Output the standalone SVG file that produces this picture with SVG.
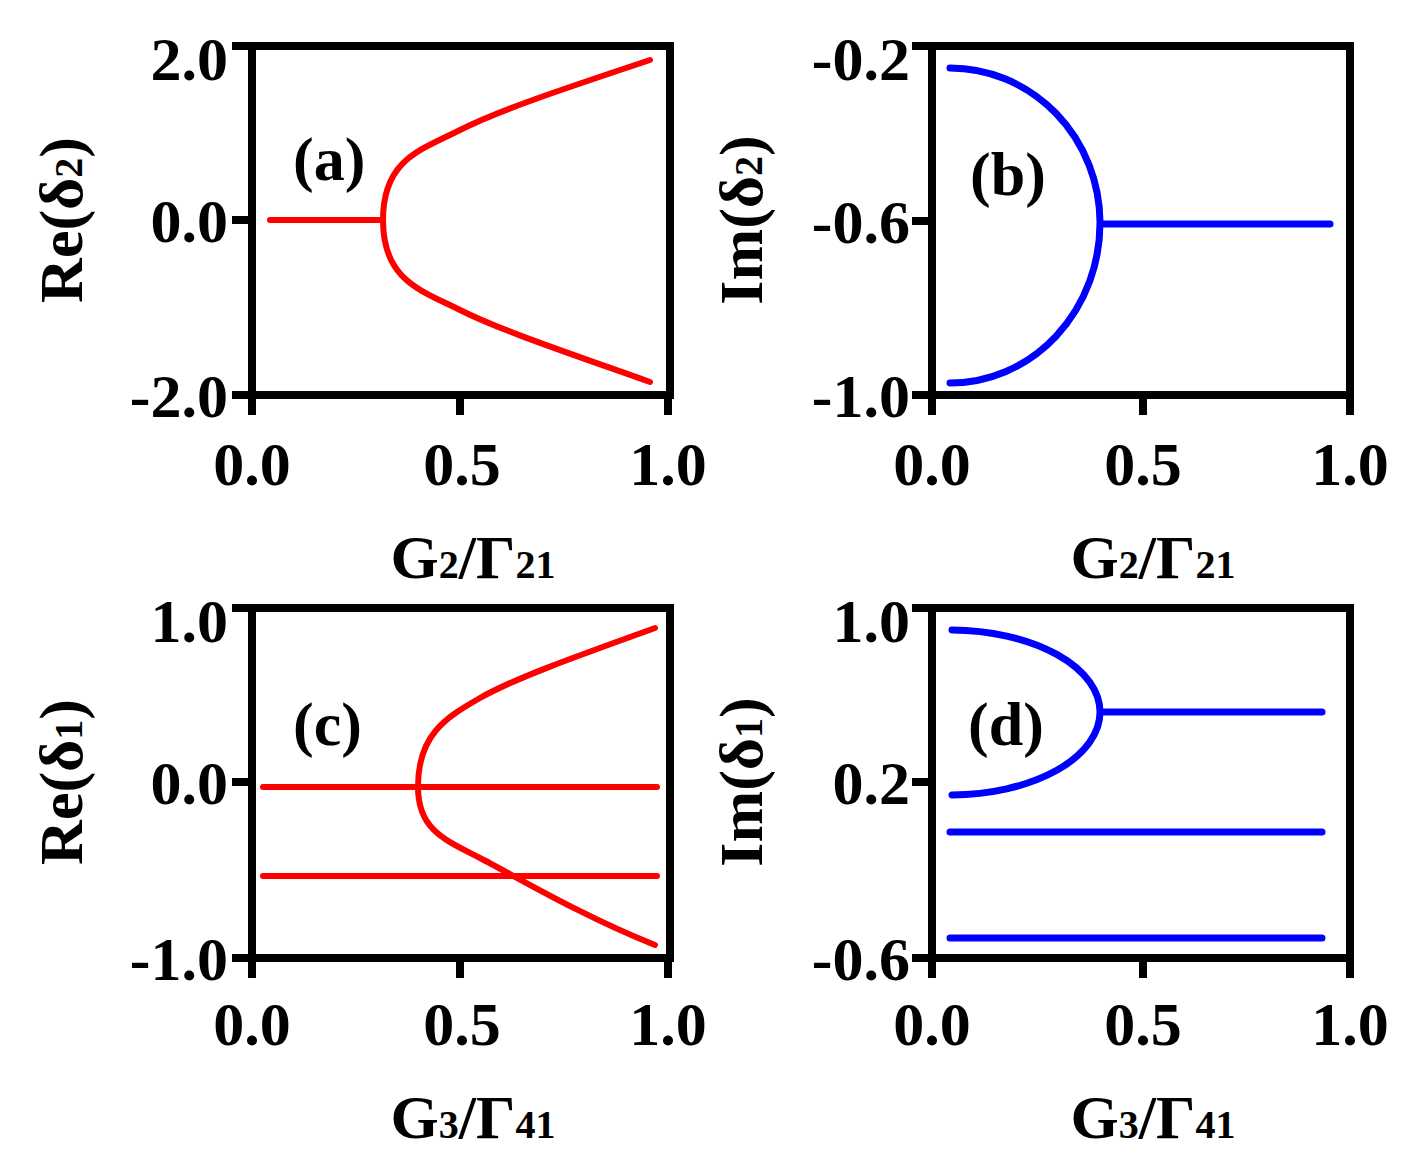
<svg xmlns="http://www.w3.org/2000/svg" width="1419" height="1164" viewBox="0 0 1419 1164">
<style>
.f{fill:none;stroke:#000;stroke-width:8}
.t{font-family:"Liberation Serif",serif;font-weight:bold;font-size:62px;fill:#000}
.r{fill:none;stroke:#f00;stroke-width:6;stroke-linecap:round}
.b{fill:none;stroke:#00f;stroke-width:7;stroke-linecap:round}
</style>
<rect width="1419" height="1164" fill="#fff"/>
<g id="panel-a">
<rect class="f" x="252" y="46" width="418" height="349"/>
<path class="f" d="M232,46H252M232,220H252M232,395H252M252,395V415M460,395V415M668,395V415"/>
<g class="t" text-anchor="end"><text x="228" y="80">2.0</text><text x="228" y="242">0.0</text><text x="228" y="417">-2.0</text></g>
<g class="t" text-anchor="middle"><text x="252" y="485">0.0</text><text x="462" y="485">0.5</text><text x="668" y="485">1.0</text>
<text x="473" y="578">G<tspan font-size="40" dy="0">2</tspan>/Γ<tspan font-size="40">21</tspan></text></g>
<text class="t" transform="translate(82,220) rotate(-90)" text-anchor="middle">Re(δ<tspan font-size="40">2</tspan>)</text>
<text class="t" x="293" y="180">(a)</text>
<path class="r" d="M270,220H383M383,220C383,160 420,150 460,130 S560,90 650,60M383,220C383,280 420,290 460,310 S560,350 650,382"/>
</g>
<g id="panel-b">
<rect class="f" x="932" y="46" width="418" height="349"/>
<path class="f" d="M912,46H932M912,221H932M912,395H932M932,395V415M1143,395V415M1350,395V415"/>
<g class="t" text-anchor="end"><text x="910" y="80">-0.2</text><text x="910" y="243">-0.6</text><text x="910" y="417">-1.0</text></g>
<g class="t" text-anchor="middle"><text x="932" y="485">0.0</text><text x="1143" y="485">0.5</text><text x="1350" y="485">1.0</text>
<text x="1153" y="578">G<tspan font-size="40">2</tspan>/Γ<tspan font-size="40">21</tspan></text></g>
<text class="t" transform="translate(762,220) rotate(-90)" text-anchor="middle">Im(δ<tspan font-size="40">2</tspan>)</text>
<text class="t" x="970" y="195">(b)</text>
<path class="b" d="M950,68A150,155 0 0 1 1100,222A150,160 0 0 1 950,383M1100,224H1330"/>
</g>
<g id="panel-c">
<rect class="f" x="252" y="608" width="418" height="350"/>
<path class="f" d="M232,608H252M232,782H252M232,958H252M252,958V978M460,958V978M668,958V978"/>
<g class="t" text-anchor="end"><text x="228" y="642">1.0</text><text x="228" y="804">0.0</text><text x="228" y="980">-1.0</text></g>
<g class="t" text-anchor="middle"><text x="252" y="1045">0.0</text><text x="462" y="1045">0.5</text><text x="668" y="1045">1.0</text>
<text x="473" y="1138">G<tspan font-size="40">3</tspan>/Γ<tspan font-size="40">41</tspan></text></g>
<text class="t" transform="translate(82,782) rotate(-90)" text-anchor="middle">Re(δ<tspan font-size="40">1</tspan>)</text>
<text class="t" x="293" y="745">(c)</text>
<path class="r" d="M263,787H657M263,876H657M418,787C418,735 445,718 480,698 S580,655 655,628M418,787C418,830 445,840 480,858 S580,915 655,945"/>
</g>
<g id="panel-d">
<rect class="f" x="932" y="608" width="418" height="350"/>
<path class="f" d="M912,608H932M912,782H932M912,958H932M932,958V978M1143,958V978M1350,958V978"/>
<g class="t" text-anchor="end"><text x="910" y="642">1.0</text><text x="910" y="804">0.2</text><text x="910" y="980">-0.6</text></g>
<g class="t" text-anchor="middle"><text x="932" y="1045">0.0</text><text x="1143" y="1045">0.5</text><text x="1350" y="1045">1.0</text>
<text x="1153" y="1138">G<tspan font-size="40">3</tspan>/Γ<tspan font-size="40">41</tspan></text></g>
<text class="t" transform="translate(762,782) rotate(-90)" text-anchor="middle">Im(δ<tspan font-size="40">1</tspan>)</text>
<text class="t" x="968" y="745">(d)</text>
<path class="b" d="M952,630A150,82 0 0 1 1100,712A150,83 0 0 1 952,795M1100,712H1322M950,832H1322M950,938H1322"/>
</g>
</svg>
